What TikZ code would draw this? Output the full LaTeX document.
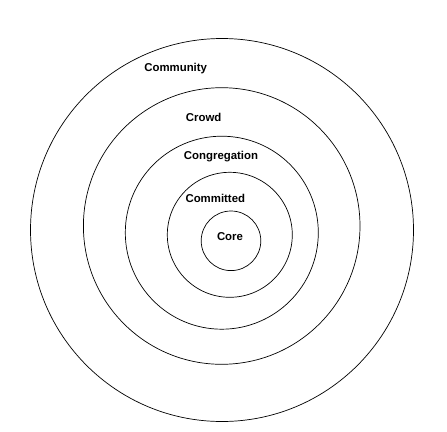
\documentclass[tikz,border=0pt]{standalone}
\usepackage{fontspec}
\setmainfont{Liberation Sans}

\begin{document}
\begin{tikzpicture}[x=1pt, y=-1pt, every node/.style={font=\fontsize{11.4}{13}\selectfont\bfseries}] % Pixel-like coordinates
		\useasboundingbox (0,0) rectangle (447,431);
		
		% Outer circle for the community
		\draw[line width=0.7pt] (222,230) circle (191.5); 
		
		% Circle for the crowd
		\draw[line width=0.7pt] (221.7,226) circle (138.3);
		
		% Circle for the congregation
		\draw[line width=0.7pt] (221.8,232.7) circle (96.5);
		
		% Circle for the committed
		\draw[line width=0.7pt] (229.8,234.8) circle (62.5);
		
		% Inner circle for the core
		\draw[line width=0.7pt] (231,240.8) circle (29.8);
		
		% Labels of the rings
		\node (community) at (175.7,68.3) {Community};
		\node (crowd) at (203.7,117.7) {Crowd};
		\node (congregation) at (221,157) {Congregation};
		\node (committed) at (215.3,198) {Committed};
		\node (core) at (230,237) {Core};
	\end{tikzpicture}
\end{document}
